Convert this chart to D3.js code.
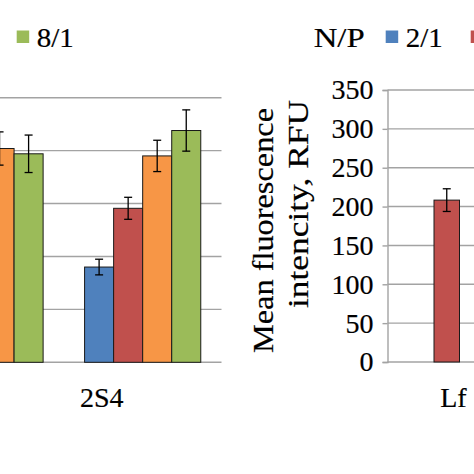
<!DOCTYPE html>
<html>
<head>
<meta charset="utf-8">
<script src="https://cdn.jsdelivr.net/npm/d3@7"></script>
<style>
  body { margin: 0; background: #fff; }
  svg { display: block; }
  text { font-family: "Liberation Serif", "DejaVu Serif", serif; fill: #000; stroke: #000; stroke-width: 0.2px; }
</style>
</head>
<body>
<svg id="chart" width="474" height="474"></svg>
<script>
// series shared by both panels
var seriesNames = ["2/1", "4/1", "6/1", "8/1"];
var seriesColors = ["#4f81bd", "#c0504d", "#f79646", "#9bbb59"];

// left panel (only partly visible)
var leftCategories = ["Lf", "2S4"];
var leftValues = [[null, null, 202, 197], [90, 145.5, 195, 219]];
var leftErrors = [[null, null, 15.7, 17.7], [7.4, 10.4, 14.8, 19.5]];
var leftTicks = [0, 50, 100, 150, 200, 250];

// right panel
var rightCategories = ["Lf", "2S4"];
var rightValues = [[null, 208.3, null, null], [null, null, null, null]];
var rightErrors = [[null, 14.6, null, null], [null, null, null, null]];
var rightTicks = [0, 50, 100, 150, 200, 250, 300, 350];
var yTitle = ["Mean fluorescence", "intencity, RFU"];

var svg = d3.select("#chart");
svg.append("rect").attr("width", 474).attr("height", 474).attr("fill", "#fff");

function drawPanel(opt) {
	var g = svg.append("g");
	var x0 = d3.scaleBand().domain(opt.categories).range(opt.xRange)
		.paddingInner(opt.pad).paddingOuter(opt.pad / 2);
	var x1 = d3.scaleBand().domain(seriesNames).range([0, x0.bandwidth()]);
	var y = d3.scaleLinear().domain([0, d3.max(opt.ticks)]).range(opt.yRange);

	// gridlines
	g.selectAll(".grid").data(opt.ticks).enter().append("line")
		.attr("x1", opt.xRange[0]).attr("x2", opt.xRange[1])
		.attr("y1", function(d){ return y(d); }).attr("y2", function(d){ return y(d); })
		.attr("stroke", "#a3a3a3").attr("stroke-width", 1.4);

	if (opt.axis) {
		var ax = g.append("g").attr("transform", "translate(" + opt.xRange[0] + ",0)")
			.call(d3.axisLeft(y).tickValues(opt.ticks).tickSize(5).tickPadding(9));
		ax.attr("font-family", null);
		ax.select(".domain").attr("stroke", "#a3a3a3").attr("stroke-width", 1.4);
		ax.selectAll(".tick line").attr("stroke", "#a3a3a3").attr("stroke-width", 1.4);
		ax.selectAll(".tick text").attr("font-size", "28px").attr("fill", "#000");
	}

	var groups = g.selectAll(".cat").data(opt.categories).enter().append("g")
		.attr("transform", function(d){ return "translate(" + x0(d) + ",0)"; });

	groups.each(function(cat, ci) {
		var cg = d3.select(this);
		seriesNames.forEach(function(s, si) {
			var v = opt.values[ci][si];
			if (v == null) return;
			var bx = x1(s), bw = x1.bandwidth();
			cg.append("rect")
				.attr("x", bx).attr("width", bw)
				.attr("y", y(v)).attr("height", y(0) - y(v))
				.attr("fill", seriesColors[si]).attr("stroke", "#1a1a1a").attr("stroke-width", 1);
			var e = opt.errors[ci][si];
			if (e == null) return;
			var cx = bx + bw / 2;
			cg.append("line").attr("x1", cx).attr("x2", cx)
				.attr("y1", y(v + e)).attr("y2", y(v - e))
				.attr("stroke", "#000").attr("stroke-width", 1.3);
			[v + e, v - e].forEach(function(t) {
				cg.append("line").attr("x1", cx - 4).attr("x2", cx + 4)
					.attr("y1", y(t)).attr("y2", y(t))
					.attr("stroke", "#000").attr("stroke-width", 1.3);
			});
		});
		// category label
		cg.append("text")
			.attr("x", x0.bandwidth() / 2 + opt.labelShift).attr("y", 406.7)
			.attr("text-anchor", "middle").attr("font-size", "28px").text(cat);
	});

	// legend
	var lg = g.append("g").attr("transform", "translate(" + opt.legendX + ",0)");
	lg.append("text").attr("x", -72).attr("y", 47).attr("font-size", "28px")
		.attr("textLength", 51).attr("lengthAdjust", "spacingAndGlyphs").text("N/P");
	seriesNames.forEach(function(s, i) {
		lg.append("rect").attr("x", i * 85).attr("y", 30.5).attr("width", 12.5).attr("height", 12.5)
			.attr("fill", seriesColors[i]);
		lg.append("text").attr("x", i * 85 + 20).attr("y", 47).attr("font-size", "28px")
			.attr("textLength", 37).attr("lengthAdjust", "spacingAndGlyphs").text(s);
	});
	return y;
}

drawPanel({
	categories: leftCategories, values: leftValues, errors: leftErrors, ticks: leftTicks,
	xRange: [-93.8, 221.5], yRange: [362.3, 97.7], pad: 0.263, labelShift: -41,
	axis: false, legendX: 16.7 - 3 * 85
});

drawPanel({
	categories: rightCategories, values: rightValues, errors: rightErrors, ticks: rightTicks,
	xRange: [387.5, 675.5], yRange: [362, 90], pad: 0.2917, labelShift: -6,
	axis: true, legendX: 385.7
});

// y axis title of the right panel
svg.append("text").attr("transform", "translate(273,230.5) rotate(-90)")
	.attr("text-anchor", "middle").attr("font-size", "29px")
	.attr("textLength", 245).attr("lengthAdjust", "spacingAndGlyphs").text(yTitle[0]);
svg.append("text").attr("transform", "translate(308,204) rotate(-90)")
	.attr("text-anchor", "middle").attr("font-size", "29px")
	.attr("textLength", 208).attr("lengthAdjust", "spacingAndGlyphs").text(yTitle[1]);
</script>
</body>
</html>
